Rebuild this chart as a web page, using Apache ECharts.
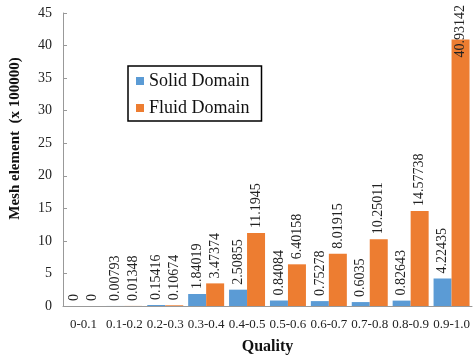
<!DOCTYPE html>
<html><head><meta charset="utf-8">
<script src="https://cdn.jsdelivr.net/npm/echarts@6/dist/echarts.min.js"></script>
<style>html,body{margin:0;padding:0;background:#fff}#c{width:474px;height:360px}</style>
</head><body><div id="c"></div>
<script>
const categories = ["0-0.1","0.1-0.2","0.2-0.3","0.3-0.4","0.4-0.5","0.5-0.6","0.6-0.7","0.7-0.8","0.8-0.9","0.9-1.0"];
const solidLabels = ["0","0.00793","0.15416","1.84019","2.50855","0.84084","0.75278","0.6035","0.82643","4.22435"];
const fluidLabels = ["0","0.01348","0.10674","3.47374","11.1945","6.40158","8.01915","10.25011","14.57738","40.93142"];
const solidValues = solidLabels.map(Number);
const fluidValues = fluidLabels.map(Number);
const yTicks = [0,5,10,15,20,25,30,35,40,45];

const font = "Liberation Serif";
const baseLabel = {show:true, position:'top', rotate:90, align:'left', verticalAlign:'middle', distance:5, fontFamily:font, fontSize:14, color:'#222'};

function mk(values, labels, lastInside){
  return values.map((v,i)=>{
    const d = {value:v, label:{formatter:labels[i]}};
    if (lastInside && i === values.length-1) d.label.distance = -18;
    return d;
  });
}

const chart = echarts.init(document.getElementById('c'));
chart.setOption({
  animation:false,
  grid:{left:53, right:2, top:13, bottom:47},
  legend:{
    orient:'vertical', left:128, top:66, padding:[6,12,4,8], itemGap:9,
    borderColor:'#000', borderWidth:1.5, backgroundColor:'#fff',
    itemWidth:8, itemHeight:8, icon:'rect',
    textStyle:{fontFamily:font, fontSize:18, color:'#111'},
    data:['Solid Domain','Fluid Domain']
  },
  xAxis:{
    type:'category', data:categories,
    axisLine:{lineStyle:{color:'#999'}}, axisTick:{show:false},
    axisLabel:{fontFamily:font, fontSize:13, color:'#222', interval:0, margin:12},
    name:'Quality', nameLocation:'middle', nameGap:33,
    nameTextStyle:{fontFamily:font, fontSize:16, fontWeight:'bold', color:'#111'}
  },
  yAxis:{
    type:'value', min:yTicks[0], max:yTicks[yTicks.length-1], interval:5,
    axisLine:{show:true, lineStyle:{color:'#999'}},
    axisTick:{show:true, inside:true, length:4, lineStyle:{color:'#999'}},
    splitLine:{show:false},
    axisLabel:{fontFamily:font, fontSize:14, color:'#222', margin:11},
    name:'Mesh element  (x 100000)', nameLocation:'middle', nameGap:40,
    nameTextStyle:{fontFamily:font, fontSize:15, fontWeight:'bold', color:'#111', padding:[0,0,0,42]}
  },
  series:[
    {name:'Solid Domain', type:'bar', data:mk(solidValues, solidLabels, false), barGap:'0%', barCategoryGap:'12%',
     itemStyle:{color:'#5B9BD5'}, label:baseLabel},
    {name:'Fluid Domain', type:'bar', data:mk(fluidValues, fluidLabels, true), barGap:'0%', barCategoryGap:'12%',
     itemStyle:{color:'#ED7D31'}, label:baseLabel}
  ]
});
</script></body></html>
